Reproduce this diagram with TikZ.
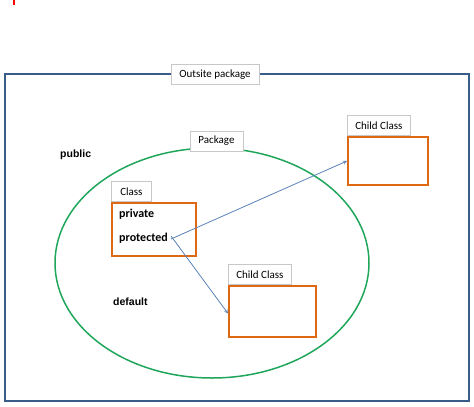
\documentclass[tikz,border=0pt]{standalone}
\usepackage{fontspec}
\usepackage{xcolor}
\usepackage{tikz}
\setmainfont{Carlito}
\newfontfamily\arialfont{Liberation Sans}
\definecolor{outerblue}{HTML}{385D8A}
\definecolor{boxorange}{HTML}{DD6A12}
\definecolor{pkggreen}{HTML}{1FA65A}
\definecolor{arrowblue}{HTML}{5A82B8}
\definecolor{lblgray}{HTML}{C8C8C8}

\begin{document}
\begin{tikzpicture}[x=1pt,y=-1pt,
    lbl/.style={draw=lblgray,fill=white,line width=0.8pt,inner xsep=5pt,inner ysep=0pt,minimum height=20pt,font=\fontsize{11}{13}\selectfont},
    clsbox/.style={draw=boxorange,line width=2pt,minimum width=#1},
    member/.style={anchor=west,inner sep=0pt,font=\fontsize{12}{14}\selectfont\bfseries},
    mod/.style={anchor=west,inner sep=0pt,font=\arialfont\fontsize{10.5}{12}\selectfont\bfseries},
    link/.style={draw=arrowblue,line width=0.8pt,-stealth}]
          \useasboundingbox (0,0) rectangle (474,407);
          \draw[red,line width=2pt] (14,0) -- (14,5);
          \draw[outerblue,line width=2.2pt] (5,74) rectangle (469,401);
          \node[lbl,minimum width=88pt] (outlbl) at (215,74.5) {Outsite package};
          \draw[pkggreen,line width=1.5pt] (212,263) ellipse [x radius=157pt, y radius=115pt];
          \node[lbl,minimum width=53pt] (pkglbl) at (216.5,141) {Package};
          \node[mod] (pub) at (60,155) {public}; \node[mod] (def) at (113,302) {default};
          \node[clsbox=84pt,minimum height=53pt] (cls) at (154,229.5) {};
          \node[lbl,anchor=south west,minimum width=40pt] (clslbl) at (cls.north west) {Class};
          \node[member] (priv) at (119,214) {private}; \node[member] (prot) at (119,238) {protected};
          \node[clsbox=80pt,minimum height=48pt] (child1) at (388,161) {};
          \node[lbl,anchor=south west,minimum width=63pt] (ch1lbl) at (child1.north west) {Child Class};
          \node[clsbox=87pt,minimum height=51pt] (child2) at (272.5,311.5) {};
          \node[lbl,anchor=south west,minimum width=63pt] (ch2lbl) at (child2.north west) {Child Class};
          \draw[link] ([xshift=3pt,yshift=-1pt]prot.east) -- (child1.west);
          \draw[link] ([xshift=3pt,yshift=2pt]prot.east) -- ([yshift=-2pt]child2.west);
        \end{tikzpicture}
\end{document}
